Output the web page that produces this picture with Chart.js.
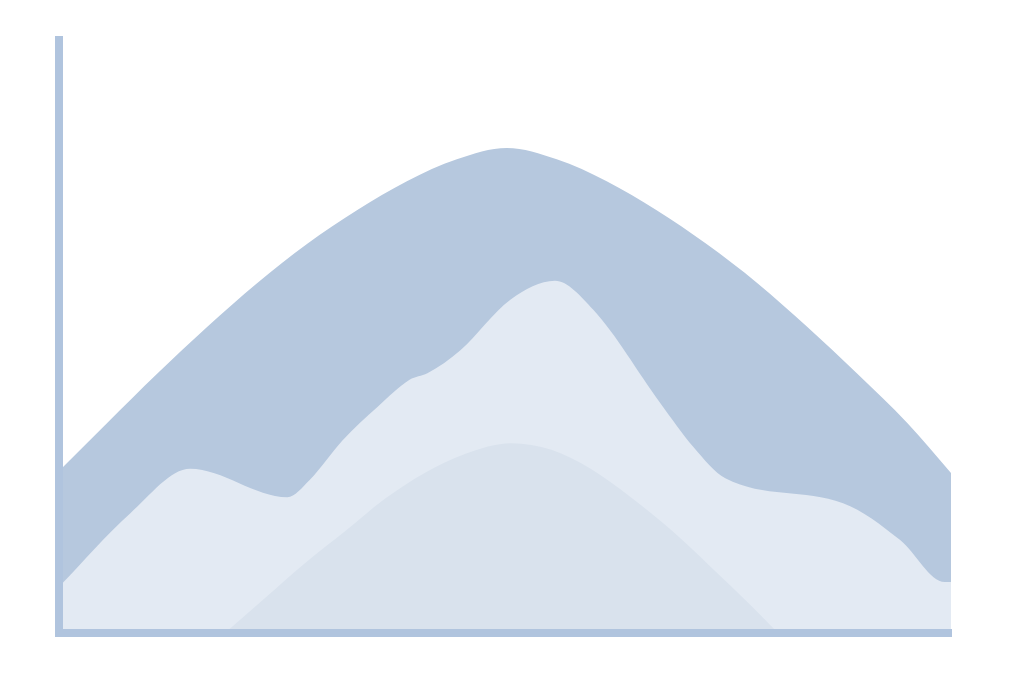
<!DOCTYPE html>
<html>
<head>
<meta charset="utf-8">
<script src="https://cdn.jsdelivr.net/npm/chart.js@4"></script>
<style>
  html, body { margin: 0; padding: 0; background: #fff; }
</style>
</head>
<body>
<canvas id="areaChart" width="1024" height="674"></canvas>
<script>
// back layer: the large bell
const bigX = [0, 5.4, 11.0, 16.6, 22.2, 27.8, 33.4, 39.0, 44.6, 50.2, 55.8, 61.4, 67.0, 72.6, 78.3, 83.9, 89.5, 95.1, 100];
const bigY = [27.3, 35.4, 43.7, 51.6, 59.0, 65.6, 71.3, 76.2, 79.9, 81.8, 79.9, 76.2, 71.3, 65.6, 59.0, 51.6, 43.7, 35.4, 27.0];

// middle layer: the bumpy series
const bumpX = [0, 8.0, 14.7, 25.6, 28.1, 31.8, 35.7, 39.3, 41.3, 45.0, 50.6, 55.6, 59.9, 67.4, 71.1, 74.7, 87.9, 94.3, 99.3, 100];
const bumpY = [7.8, 20.2, 27.7, 22.9, 25.8, 32.5, 38.1, 42.7, 43.8, 47.7, 56.2, 59.4, 54.5, 38.8, 31.4, 26.1, 21.9, 15.7, 8.6, 8.6];

// front layer: the small bell
const smallX = [18.6, 23.1, 27.6, 32.1, 36.5, 41.0, 45.5, 50.7, 55.2, 59.6, 64.1, 68.6, 73.1, 77.6, 80.6];
const smallY = [0, 5.9, 11.8, 17.2, 22.6, 27.0, 30.2, 32.0, 30.9, 27.7, 22.9, 17.4, 11.1, 4.6, 0];

const toPoints = (xs, ys) => xs.map((x, i) => ({ x: x, y: ys[i] }));

const axisColor = '#b0c4de';

const ctx = document.getElementById('areaChart').getContext('2d');
const areaChart = new Chart(ctx, {
    type: 'line',
    data: {
        datasets: [
            {
                data: toPoints(smallX, smallY),
                backgroundColor: '#d9e2ed',
                fill: 'origin',
            },
            {
                data: toPoints(bumpX, bumpY),
                backgroundColor: '#e3eaf3',
                fill: 'origin',
            },
            {
                data: toPoints(bigX, bigY),
                backgroundColor: '#b6c8de',
                fill: 'origin',
            }
        ]
    },
    options: {
        responsive: false,
        animation: false,
        layout: {
            padding: { left: 59, right: 73, top: 40, bottom: 41 }
        },
        elements: {
            line: { borderWidth: 0, cubicInterpolationMode: 'monotone' },
            point: { radius: 0 }
        },
        scales: {
            x: {
                type: 'linear',
                min: 0,
                max: 100,
                grid: { display: false, drawTicks: false },
                ticks: { display: false },
                border: { color: axisColor, width: 8, z: 1 }
            },
            y: {
                min: 0,
                max: 100,
                grid: { display: false, drawTicks: false },
                ticks: { display: false },
                border: { color: axisColor, width: 8, z: 1 }
            }
        },
        plugins: {
            legend: { display: false },
            tooltip: { enabled: false }
        }
    }
});
</script>
</body>
</html>
